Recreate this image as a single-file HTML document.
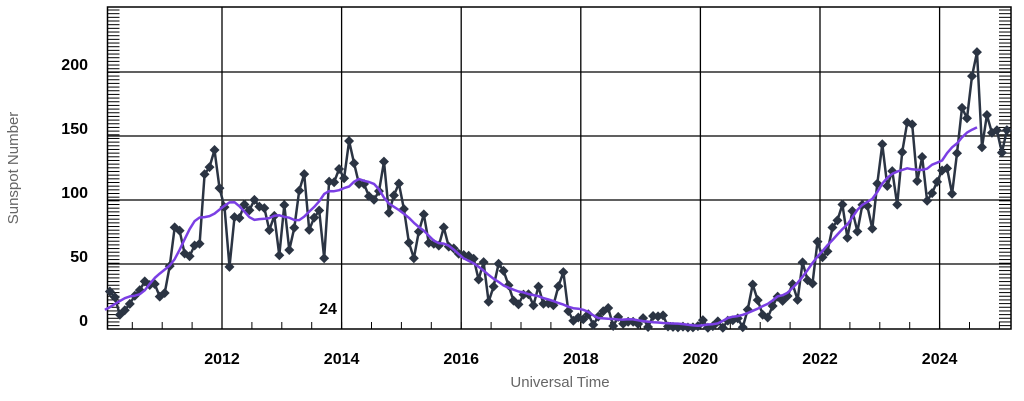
<!DOCTYPE html>
<html><head><meta charset="utf-8"><style>
html,body{margin:0;padding:0;background:#fff;width:1024px;height:401px;overflow:hidden}
svg{display:block;font-family:"Liberation Sans",sans-serif}
</style></head><body>
<svg id="s" width="1024" height="401" viewBox="0 0 1024 401"></svg>
<script>
const NS="http://www.w3.org/2000/svg";const s=document.getElementById('s');
function el(t,a,txt){const e=document.createElementNS(NS,t);for(const k in a)e.setAttribute(k,a[k]);if(txt!==undefined)e.textContent=txt;s.appendChild(e);return e;}
const L=107.5,R=1011,T=7,B=329;
const X=y=>222+(y-2012)*59.8, Y=v=>328-v*1.28;
// data from Jul 2009
const pre=[5.1,0.0,6.7,8.3,6.6,18.7];
const d=[19.6,28.5,24.0,10.4,13.9,18.8,25.2,29.6,36.4,33.6,34.4,24.5,
27.3,48.3,78.6,76.1,58.2,56.1,64.5,65.8,120.1,125.7,139.1,109.3,
47.8,47.8,86.6,85.9,96.5,92.0,100.1,94.8,93.7,76.5,87.6,56.8,
96.1,60.9,78.3,107.3,120.2,76.7,86.2,91.8,54.5,114.4,113.9,124.2,
117.0,146.1,128.7,112.5,112.5,102.9,100.2,106.9,130.0,90.0,103.6,112.9,
93.0,66.7,54.5,75.3,88.8,66.5,65.8,64.4,78.6,63.6,62.2,58.0,
57.0,56.4,54.1,37.9,51.5,20.5,32.4,50.2,44.6,33.4,21.4,18.5,
26.1,26.4,17.7,32.3,18.9,19.2,17.8,32.6,43.7,13.2,5.7,8.2,
6.8,10.7,2.5,8.9,13.1,15.6,1.6,8.7,3.3,4.9,4.9,3.1,
7.7,0.8,9.4,9.1,9.9,1.2,0.9,0.5,1.1,0.4,0.5,1.5,
6.2,0.2,1.5,5.2,0.2,5.8,6.1,7.5,0.6,14.4,34.0,21.8,
10.4,8.2,17.2,24.5,21.2,25.0,34.3,22.0,51.3,37.4,34.8,67.5,
55.3,59.9,78.5,84.1,96.5,70.5,91.4,75.4,96.3,95.4,77.6,112.8,
143.6,110.9,122.6,96.4,137.4,160.5,159.1,114.8,133.6,99.4,105.4,114.2,
123.0,124.7,104.9,136.5,172.0,163.9,196.8,215.5,141.2,166.4,152.5,154.5,
137.0,154.6];
d[24]=94.4;
// grid
for(let v=50;v<=200;v+=50)el('line',{x1:L,x2:R,y1:Y(v),y2:Y(v),stroke:'#000','stroke-width':1.3});
for(let y=2012;y<=2024;y+=2)el('line',{x1:X(y),x2:X(y),y1:T,y2:B,stroke:'#000','stroke-width':1.3});
// minor ticks
for(let y=T+3;y<B;y+=3.67){el('line',{x1:L,x2:L+12,y1:y,y2:y,stroke:'#000','stroke-width':1});el('line',{x1:R-12,x2:R,y1:y,y2:y,stroke:'#000','stroke-width':1});}
for(let y=2010.5;y<2025.2;y+=0.5){el('line',{x1:X(y),x2:X(y),y1:B-7,y2:B,stroke:'#000','stroke-width':1});}
el('rect',{x:L,y:T,width:R-L,height:B-T,fill:'none',stroke:'#000','stroke-width':1.5});
// smoothed
const all=pre.concat(d);let sp=[];
for(let i=6;i<all.length-6;i++){let sum=0;for(let k=-6;k<=6;k++)sum+=all[i+k]*((k==-6||k==6)?0.5:1);const m=i-6;const t=2010+(m+0.5)/12;sp.push(X(t).toFixed(1)+','+Y(sum/12).toFixed(1));}
// series
let pts=[];for(let i=1;i<d.length;i++){pts.push([X(2010+(i+0.5)/12),Y(d[i])]);}
el('polyline',{points:pts.map(p=>p[0].toFixed(1)+','+p[1].toFixed(1)).join(' '),fill:'none',stroke:'#2b3443','stroke-width':2.5,'stroke-linejoin':'round'});
for(const p of pts){const [x,y]=p;el('path',{d:`M${x-5},${y}L${x},${y-5}L${x+5},${y}L${x},${y+5}Z`,fill:'#2b3443'});}
el('polyline',{points:sp.join(' '),fill:'none',stroke:'#7b3fe4','stroke-width':2.5,'stroke-linejoin':'round'});
// labels
const ty=[[0,'0'],[50,'50'],[100,'100'],[150,'150'],[200,'200']];
for(const [v,t] of ty)el('text',{x:88,y:Y(v)-2,'text-anchor':'end','font-size':16,'font-weight':'bold',fill:'#000'},t);
for(let y=2012;y<=2024;y+=2)el('text',{x:X(y),y:364,'text-anchor':'middle','font-size':16,'font-weight':'bold',fill:'#000'},y);
el('text',{x:328,y:314,'text-anchor':'middle','font-size':16,'font-weight':'bold',fill:'#000'},'24');
el('text',{x:560,y:387,'text-anchor':'middle','font-size':15,fill:'#666'},'Universal Time');
el('text',{x:18,y:168,'text-anchor':'middle','font-size':15,fill:'#666',transform:'rotate(-90 18 168)'},'Sunspot Number');
</script>
</body></html>
